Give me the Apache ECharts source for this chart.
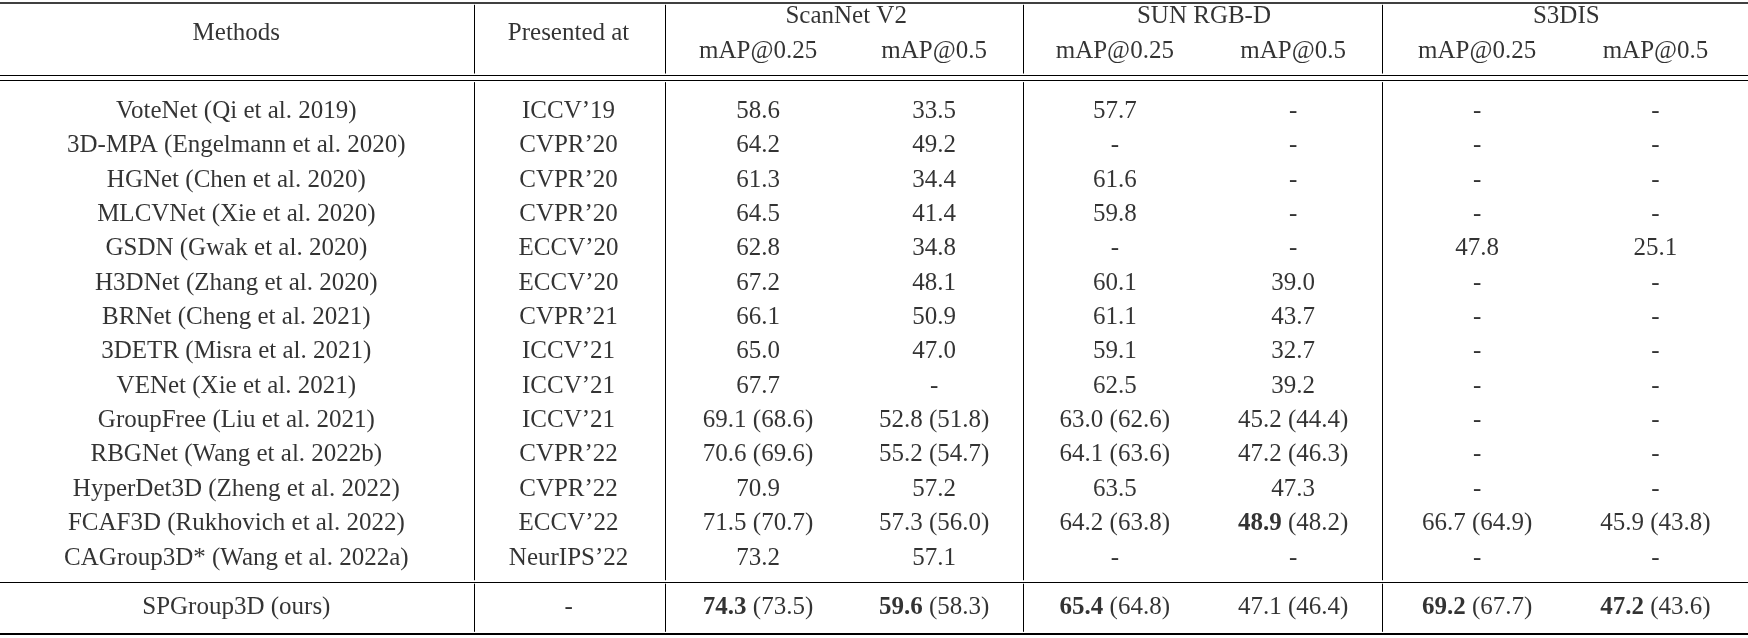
<!DOCTYPE html><html><head><meta charset="utf-8">
<script src="https://cdn.jsdelivr.net/npm/echarts@6/dist/echarts.min.js"></script>
<style>html,body{margin:0;background:#fff}#c{width:1748px;height:638px}</style></head><body><div id="c"></div>
<script>
const methods=["VoteNet (Qi et al. 2019)","3D-MPA (Engelmann et al. 2020)","HGNet (Chen et al. 2020)","MLCVNet (Xie et al. 2020)","GSDN (Gwak et al. 2020)","H3DNet (Zhang et al. 2020)","BRNet (Cheng et al. 2021)","3DETR (Misra et al. 2021)","VENet (Xie et al. 2021)","GroupFree (Liu et al. 2021)","RBGNet (Wang et al. 2022b)","HyperDet3D (Zheng et al. 2022)","FCAF3D (Rukhovich et al. 2022)","CAGroup3D* (Wang et al. 2022a)","SPGroup3D (ours)"];
const venues=["ICCV’19","CVPR’20","CVPR’20","CVPR’20","ECCV’20","ECCV’20","CVPR’21","ICCV’21","ICCV’21","ICCV’21","CVPR’22","CVPR’22","ECCV’22","NeurIPS’22","-"];
const scan25=["58.6","64.2","61.3","64.5","62.8","67.2","66.1","65.0","67.7","69.1 (68.6)","70.6 (69.6)","70.9","71.5 (70.7)","73.2","74.3 (73.5)"];
const scan50=["33.5","49.2","34.4","41.4","34.8","48.1","50.9","47.0","-","52.8 (51.8)","55.2 (54.7)","57.2","57.3 (56.0)","57.1","59.6 (58.3)"];
const sun25=["57.7","-","61.6","59.8","-","60.1","61.1","59.1","62.5","63.0 (62.6)","64.1 (63.6)","63.5","64.2 (63.8)","-","65.4 (64.8)"];
const sun50=["-","-","-","-","-","39.0","43.7","32.7","39.2","45.2 (44.4)","47.2 (46.3)","47.3","48.9 (48.2)","-","47.1 (46.4)"];
const s3d25=["-","-","-","-","47.8","-","-","-","-","-","-","-","66.7 (64.9)","-","69.2 (67.7)"];
const s3d50=["-","-","-","-","25.1","-","-","-","-","-","-","-","45.9 (43.8)","-","47.2 (43.6)"];
const boldCells=[[14,2],[14,3],[14,4],[12,5],[14,6],[14,7]];
const groups=["ScanNet V2","SUN RGB-D","S3DIS"];
const subHeads=["mAP@0.25","mAP@0.5","mAP@0.25","mAP@0.5","mAP@0.25","mAP@0.5"];
const colX=[212,510,680,838,1000,1160,1325,1485];
const rowY=[0,1,2,3,4,5,6,7,8,9,10,11,12,13,14.45];
const cols=[methods,venues,scan25,scan50,sun25,sun50,s3d25,s3d50];
const data=[];
cols.forEach((c,ci)=>c.forEach((t,ri)=>{
  let s=t;
  if(boldCells.some(b=>b[0]===ri&&b[1]===ci)){const p=t.split(' ');s='{b|'+p[0]+'}'+(p[1]?' '+p.slice(1).join(' '):'');}
  data.push({value:[colX[ci],rowY[ri]],txt:s});
}));
data.push({value:[212,-2.27],txt:"Methods"},{value:[510,-2.27],txt:"Presented at"});
[759,1080,1405].forEach((x,i)=>data.push({value:[x,-2.75],txt:groups[i]}));
subHeads.forEach((h,i)=>data.push({value:[colX[i+2],-1.75],txt:h}));
const L=(x1,y1,x2,y2,w)=>[{coord:[x1,y1],lineStyle:{width:w}},{coord:[x2,y2]}];
const lines=[L(0,-3.15,1568,-3.15,1.5),L(0,-1.04,1568,-1.04,1.2),L(0,-0.91,1568,-0.91,1.2),L(0,13.7,1568,13.7,1.2),L(0,15.2,1568,15.2,1.8)];
[425,597,918,1240].forEach(x=>{lines.push(L(x,-3.1,x,-1.1,1),L(x,-0.85,x,13.65,1),L(x,13.75,x,15.15,1));});
const ch=echarts.init(document.getElementById('c'));
ch.setOption({animation:false,
grid:{left:0,right:0,top:0,bottom:0},
xAxis:{type:'value',min:0,max:1568,show:false},
yAxis:{type:'value',min:-3.24,max:15.33,inverse:true,show:false},
series:[{type:'scatter',symbolSize:0,data:data,
label:{show:true,position:'inside',formatter:p=>p.data.txt,fontFamily:'Liberation Serif',fontSize:25,color:'#000',
rich:{b:{fontWeight:'bold',fontFamily:'Liberation Serif',fontSize:25,color:'#000'}}},
markLine:{silent:true,symbol:'none',label:{show:false},lineStyle:{color:'#000',type:'solid',width:1},data:lines}}]});
</script></body></html>
